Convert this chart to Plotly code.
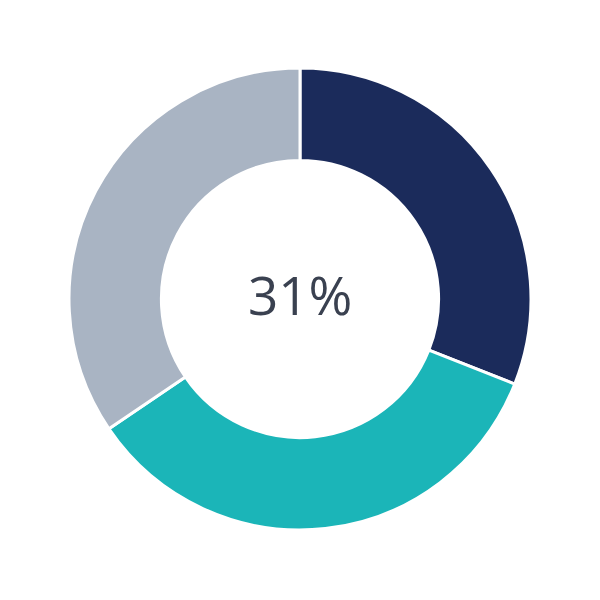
import plotly.graph_objects as go

labels = ["Navy", "Teal", "Gray"]
values = [31, 34.5, 34.5]
colors = ["#1b2b5b", "#1bb5b8", "#a9b4c3"]
center_text = "31%"

fig = go.Figure(go.Pie(
    labels=labels,
    values=values,
    hole=0.6,
    sort=False,
    direction="clockwise",
    rotation=0,
    marker=dict(colors=colors, line=dict(color="white", width=3)),
    textinfo="none",
    hoverinfo="label+percent",
    showlegend=False,
))

# page body adds ~8px offset, so margins are shifted to compensate
fig.update_layout(
    width=600, height=600,
    margin=dict(l=61, r=77, t=60, b=78),
    paper_bgcolor="white",
    annotations=[dict(text=center_text, x=0.5, y=0.5, xref="paper", yref="paper",
                      showarrow=False, yshift=5,
                      font=dict(family="Open Sans", size=53, color="#3a4150"))],
)

fig.write_html("out.html")
